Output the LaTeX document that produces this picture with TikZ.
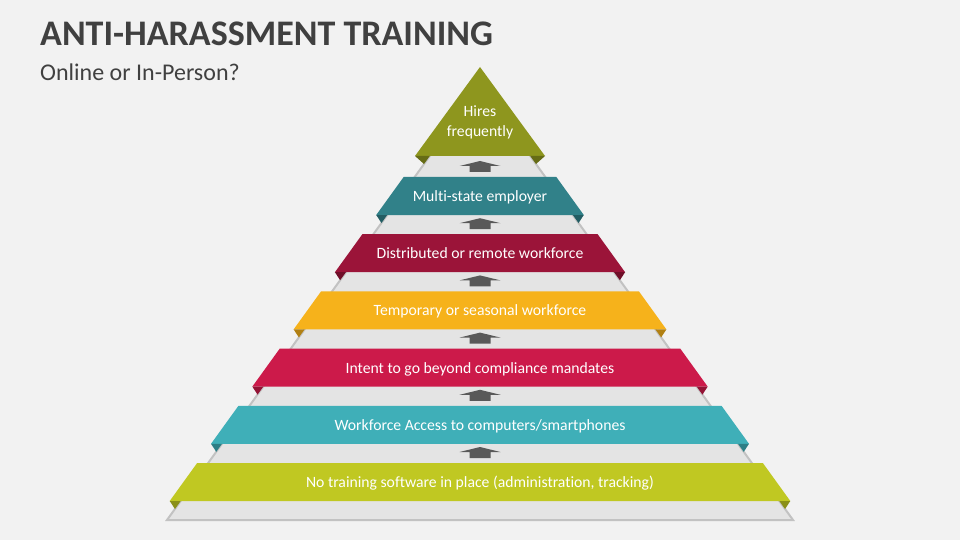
\documentclass[tikz,border=0pt]{standalone}
\usepackage{fontspec}
\setmainfont[Ligatures=NoCommon]{Carlito}

\definecolor{pageBg}{HTML}{F2F2F2}
\definecolor{titleGr}{HTML}{404040}
\definecolor{faceGr}{HTML}{E4E4E4}
\definecolor{edgeGr}{HTML}{C2C2C2}
\definecolor{arrowGr}{HTML}{595959}
\definecolor{hireOl}{HTML}{8E961E}
\definecolor{multiTl}{HTML}{318189}
\definecolor{distWn}{HTML}{9B1439}
\definecolor{tempAm}{HTML}{F6B21B}
\definecolor{intRo}{HTML}{CC1A4A}
\definecolor{accTl}{HTML}{3FAFB8}
\definecolor{softLm}{HTML}{C0C822}

\begin{document}
\begin{tikzpicture}[x=1pt,y=-1pt,
    lbl/.style={text=white, inner sep=0pt, font=\fontsize{15.7}{19}\selectfont},
    heading/.style={text=titleGr, inner sep=0pt, anchor=base west}]

    % page
    \fill[pageBg] (0,0) rectangle (960,540);
    \useasboundingbox (0,0) rectangle (960,540);

    % heading
    \node[heading, font=\fontsize{36}{40}\selectfont\bfseries] (title) at (40,46) {ANTI-HARASSMENT TRAINING};
    \node[heading, font=\fontsize{24}{28}\selectfont] (subtitle) at (40,81) {Online or In-Person?};

    % gray pyramid behind the ribbons
    \fill[faceGr] (441.4,140) -- (518.6,140) -- (793,520) -- (167,520) -- cycle;
    \draw[edgeGr, line width=2pt] (441.4,140) -- (167,520) -- (793,520) -- (518.6,140);

    % top triangle
    \fill[hireOl] (480,67) -- (545,156) -- (415,156) -- cycle;
    \fill[hireOl!72!black] (415,156) -- (429.8,156) -- (424,164) -- cycle;
    \fill[hireOl!72!black] (545,156) -- (530.2,156) -- (536,164) -- cycle;
    \node[lbl, anchor=base] (hires) at (480,116.7) {Hires};
    \node[lbl, anchor=base] (freq) at (480,136.7) {frequently};

    % ribbons, folds and up arrows
    \foreach \t/\c/\txt [count=\i] in {
        177/multiTl/{Multi-state employer},
        234.2/distWn/{Distributed or remote workforce},
        291.4/tempAm/{Temporary or seasonal workforce},
        348.6/intRo/{Intent to go beyond compliance mandates},
        405.8/accTl/{Workforce Access to computers/smartphones},
        463/softLm/{No training software in place (administration, tracking)}}{
        \pgfmathsetmacro\b{\t+38}
        \pgfmathsetmacro\xt{480-0.722*(\t-86.5)-11}
        \pgfmathsetmacro\xb{480-0.722*(\b-86.5)-11}
        \pgfmathsetmacro\xf{\xb+11}
        \pgfmathsetmacro\yf{\b+8}
        \pgfmathsetmacro\xs{480-0.722*(\yf-86.5)}
        % ribbon
        \fill[\c] (\xt,\t) -- (960-\xt,\t) -- (960-\xb,\b) -- (\xb,\b) -- cycle;
        % folds
        \fill[\c!72!black] (\xb,\b) -- (\xf,\b) -- (\xs,\yf) -- cycle;
        \fill[\c!72!black] (960-\xb,\b) -- (960-\xf,\b) -- (960-\xs,\yf) -- cycle;
        % arrow
        \fill[arrowGr] (480,\t-16) -- (500.5,\t-11) -- (490.5,\t-11) -- (490.5,\t-5)
            -- (469.5,\t-5) -- (469.5,\t-11) -- (459.5,\t-11) -- cycle;
        \node[lbl, anchor=base] (lbl\i) at (480,\t+24.5) {\txt};
    }

\end{tikzpicture}
\end{document}
